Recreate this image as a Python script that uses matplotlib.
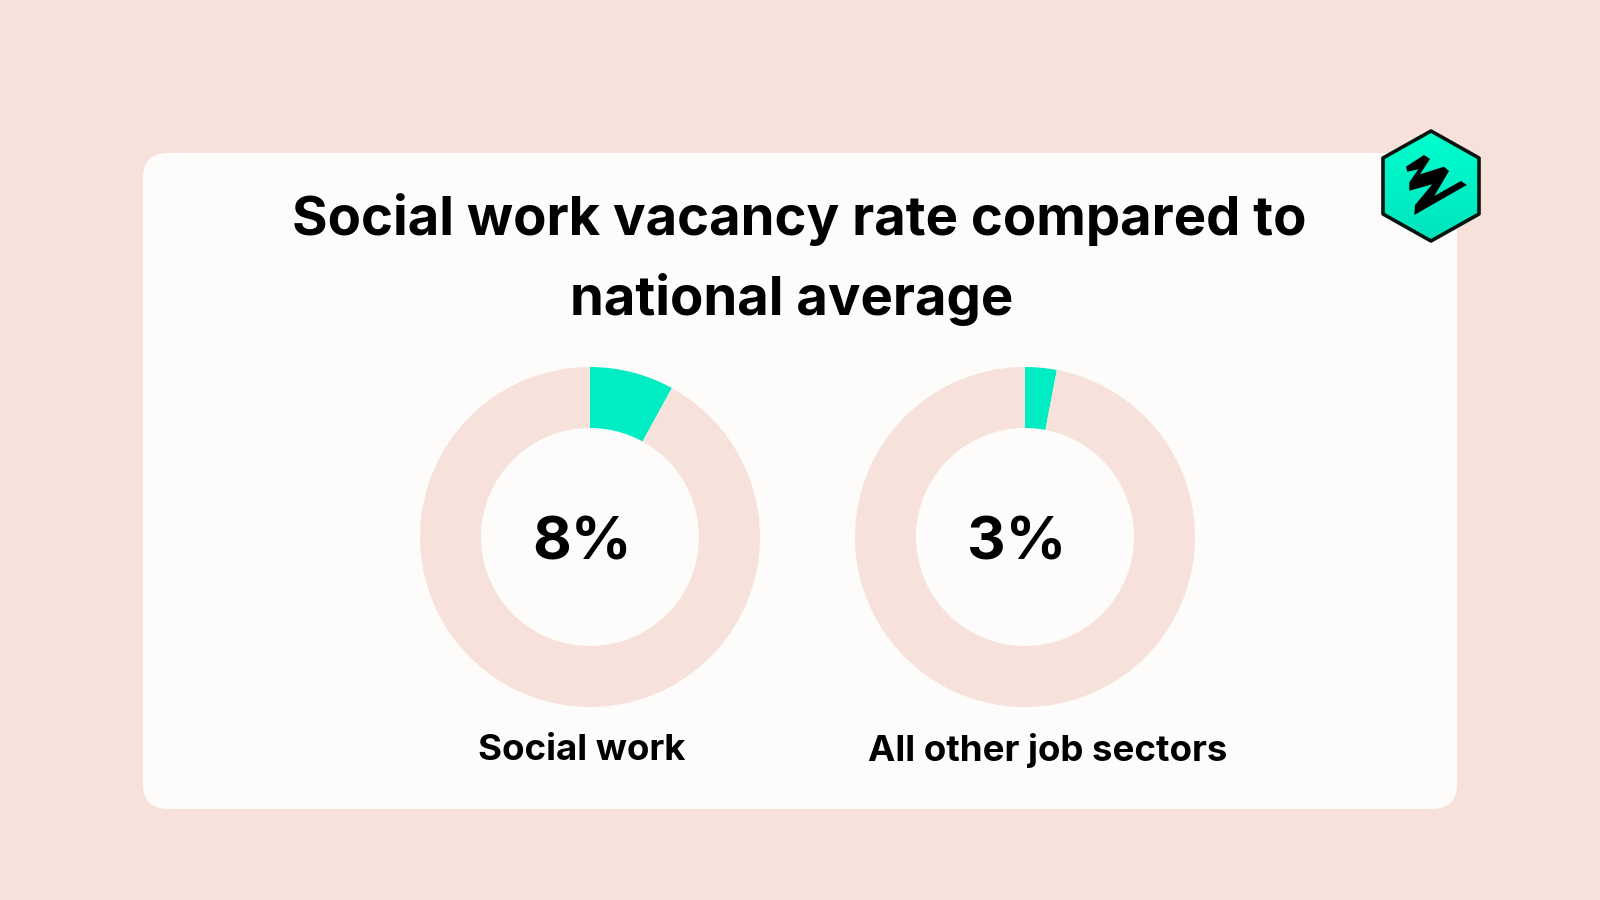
import matplotlib
matplotlib.use("Agg")
import matplotlib.pyplot as plt
import numpy as np
from matplotlib.colors import LinearSegmentedColormap
from matplotlib.patches import FancyBboxPatch, Polygon

categories = ["Social work", "All other job sectors"]
values = [8, 3]
title_lines = ["Social work vacancy rate compared to", "national average"]

BG = "#F6E2DB"
CARD = "#FEFCFA"
TEAL = "#00EDC4"
W, H = 1600, 900
plt.rcParams['font.family'] = ['Inter', 'DejaVu Sans']

fig = plt.figure(figsize=(16, 9), dpi=100, facecolor=BG)
bg = fig.add_axes([0, 0, 1, 1])
bg.set_xlim(0, W)
bg.set_ylim(H, 0)
bg.axis("off")
bg.add_patch(FancyBboxPatch((143 + 25, 153 + 25), 1314 - 50, 656 - 50,
                            boxstyle="round,pad=25", fc=CARD, ec="none"))

bg.text(799, 220, title_lines[0], ha="center", va="center", fontsize=39.2, fontweight="bold", color="black")
bg.text(792, 299, title_lines[1], ha="center", va="center", fontsize=39.2, fontweight="bold", color="black")

centers = [(590, 537), (1025, 537)]
R = 170
text_x = [582, 1017]
label_x = [582, 1048]
for (cx, cy), v, c, tx, lx in zip(centers, values, categories, text_x, label_x):
    ax = fig.add_axes([(cx - R) / W, 1 - (cy + R) / H, 2 * R / W, 2 * R / H])
    ax.pie([v, 100 - v], colors=[TEAL, BG], startangle=90, counterclock=False,
           radius=1, wedgeprops=dict(width=61 / 170, linewidth=0))
    ax.set_xlim(-1, 1)
    ax.set_ylim(-1, 1)
    bg.text(tx, cy + 7, f"{v}%", ha="center", va="center", fontsize=43, fontweight="bold", color="black")
    bg.text(lx, 751, c, ha="center", va="center", fontsize=26.4, fontweight="bold", color="black")

# logo badge
hexagon = [(1431, 131), (1479, 158), (1479, 214), (1431, 241), (1383, 214), (1383, 158)]
hex_patch = Polygon(hexagon, closed=True, fc="none", ec="#06130F", lw=2.6, joinstyle="round", zorder=7)
cmap = LinearSegmentedColormap.from_list("badge", ["#00FFCE", "#00E3BC"])
grad = bg.imshow(np.linspace(0, 1, 64).reshape(-1, 1), extent=(1383, 1479, 241, 131), cmap=cmap,
                 aspect="auto", zorder=5)
bg.add_patch(hex_patch)
grad.set_clip_path(hex_patch)
bg.set_xlim(0, W)
bg.set_ylim(H, 0)
mark = [(1406, 166.7), (1424, 155), (1430, 159), (1420, 174.3), (1444, 166.7), (1449, 171),
        (1434.3, 196), (1461, 181), (1466.7, 185), (1414.3, 215), (1415, 205), (1432.3, 184.3),
        (1409.3, 190.7), (1409.3, 182.3), (1418.3, 169.3), (1407.3, 171.7)]
bg.add_patch(Polygon(mark, closed=True, fc="black", ec="none", zorder=6))

fig.savefig("out.png", dpi=100, facecolor=BG)
